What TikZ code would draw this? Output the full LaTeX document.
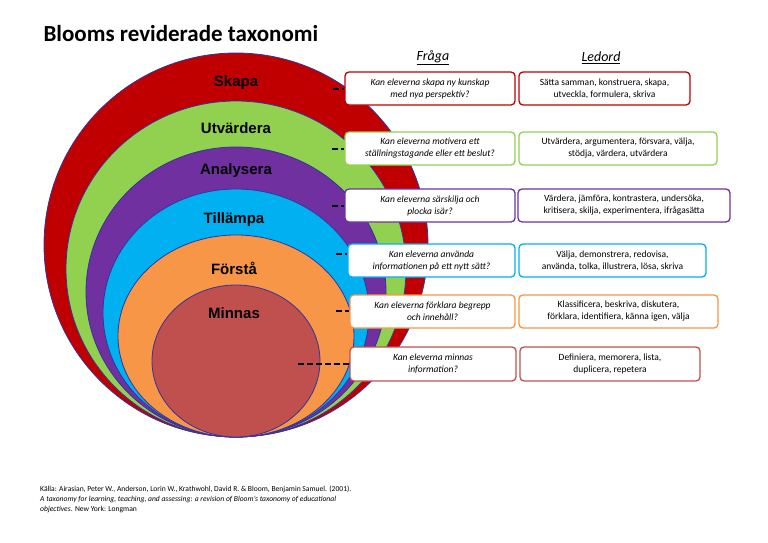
\documentclass[tikz,border=0pt]{standalone}
\usepackage{fontspec}
\setmainfont{Carlito}
\newfontfamily\arialf{Liberation Sans}
\begin{document}
\begin{tikzpicture}[x=1pt,y=-1pt,
 lvl/.style={draw=black!30!blue!60!gray,line width=0.8pt},
 lab/.style={font=\arialf\bfseries\fontsize{15}{17}\selectfont},
 qbox/.style={draw=#1,line width=1.3pt,rounded corners=4pt,fill=white,font=\itshape\fontsize{9.5}{12}\selectfont,align=center,inner sep=0pt},
 lbox/.style={draw=#1,line width=1.3pt,rounded corners=4pt,fill=white,font=\fontsize{9.5}{12}\selectfont,align=center,inner sep=0pt},
 dsh/.style={dashed,dash pattern=on 6pt off 3pt,line width=1.5pt}]
\definecolor{cr}{HTML}{C00000}\definecolor{cg}{HTML}{92D050}\definecolor{cp}{HTML}{7030A0}
\definecolor{cc}{HTML}{00B0F0}\definecolor{co}{HTML}{F79646}\definecolor{cm}{HTML}{C0504D}
\useasboundingbox (0,0) rectangle (768,543);
\fill[white] (0,0) rectangle (768,543);
\node[anchor=west,font=\bfseries\fontsize{23}{26}\selectfont] (title) at (40,34) {Blooms reviderade taxonomi};
\draw[lvl,fill=cr] (236,245) ellipse [x radius=192,y radius=192];
\draw[lvl,fill=cg] (236,269) ellipse [x radius=170,y radius=168];
\draw[lvl,fill=cp] (236,292) ellipse [x radius=150,y radius=145];
\draw[lvl,fill=cc] (236,313) ellipse [x radius=133,y radius=124];
\draw[lvl,fill=co] (236,336) ellipse [x radius=118,y radius=101];
\draw[lvl,fill=cm] (236,361) ellipse [x radius=84,y radius=76];
\node[lab] (l1) at (236,83) {Skapa};
\node[lab] (l2) at (236,128) {Utvärdera};
\node[lab] (l3) at (236,171) {Analysera};
\node[lab] (l4) at (234,220) {Tillämpa};
\node[lab] (l5) at (234,268) {Förstå};
\node[lab] (l6) at (234,313) {Minnas};
\node[font=\itshape\fontsize{14}{16}\selectfont] (hf) at (433,58) {\underline{Fråga}};
\node[font=\itshape\fontsize{14}{16}\selectfont] (hl) at (601,58) {\underline{Ledord}};
% rows
\node[qbox=cr,minimum width=170pt,minimum height=33pt] (q1) at (430,88.5) {Kan eleverna skapa ny kunskap\\med nya perspektiv?};
\node[lbox=cr,minimum width=171pt,minimum height=33pt] (d1) at (604.5,88.5) {Sätta samman, konstruera, skapa,\\utveckla, formulera, skriva};
\node[qbox=cg,minimum width=170pt,minimum height=33pt] (q2) at (430,148.5) {Kan eleverna motivera ett\\ställningstagande eller ett beslut?};
\node[lbox=cg,minimum width=198pt,minimum height=33pt] (d2) at (618,148.5) {Utvärdera, argumentera, försvara, välja,\\stödja, värdera, utvärdera};
\node[qbox=cp,minimum width=170pt,minimum height=33pt] (q3) at (430,205.5) {Kan eleverna särskilja och\\plocka isär?};
\node[lbox=cp,minimum width=212pt,minimum height=33pt] (d3) at (624,205.5) {Värdera, jämföra, kontrastera, undersöka,\\kritisera, skilja, experimentera, ifrågasätta};
\node[qbox=cc,minimum width=167pt,minimum height=33pt] (q4) at (431.5,260.5) {Kan eleverna använda\\informationen på ett nytt sätt?};
\node[lbox=cc,minimum width=187pt,minimum height=33pt] (d4) at (612.5,260.5) {Välja, demonstrera, redovisa,\\använda, tolka, illustrera, lösa, skriva};
\node[qbox=co,minimum width=165pt,minimum height=33pt] (q5) at (432.5,311.5) {Kan eleverna förklara begrepp\\och innehåll?};
\node[lbox=co,minimum width=199pt,minimum height=33pt] (d5) at (618.5,311.5) {Klassificera, beskriva, diskutera,\\förklara, identifiera, känna igen, välja};
\node[qbox=cm,minimum width=166pt,minimum height=34pt] (q6) at (433,364) {Kan eleverna minnas\\information?};
\node[lbox=cm,minimum width=180pt,minimum height=34pt] (d6) at (610,364) {Definiera, memorera, lista,\\duplicera, repetera};
\coordinate (c1) at (333,89); \coordinate (c2) at (332,149); \coordinate (c3) at (332,206);
\coordinate (c4) at (336,254); \coordinate (c5) at (336,311); \coordinate (c6) at (298,364);
\draw[dsh] (c1) -- (c1-|q1.west);
\draw[dsh] (c2) -- (c2-|q2.west);
\draw[dsh] (c3) -- (c3-|q3.west);
\draw[dsh] (c4) -- (c4-|q4.west);
\draw[dsh] (c5) -- (c5-|q5.west);
\draw[dsh] (c6) -- (c6-|q6.west);
\node[anchor=north west,align=left,font=\fontsize{7.6}{10}\selectfont,inner sep=0pt] (src) at (40,486) {Källa: Airasian, Peter W., Anderson, Lorin W., Krathwohl, David R. \& Bloom, Benjamin Samuel. (2001).\\\textit{A taxonomy for learning, teaching, and assessing: a revision of Bloom's taxonomy of educational}\\\textit{objectives}. New York: Longman};
\end{tikzpicture}
\end{document}
